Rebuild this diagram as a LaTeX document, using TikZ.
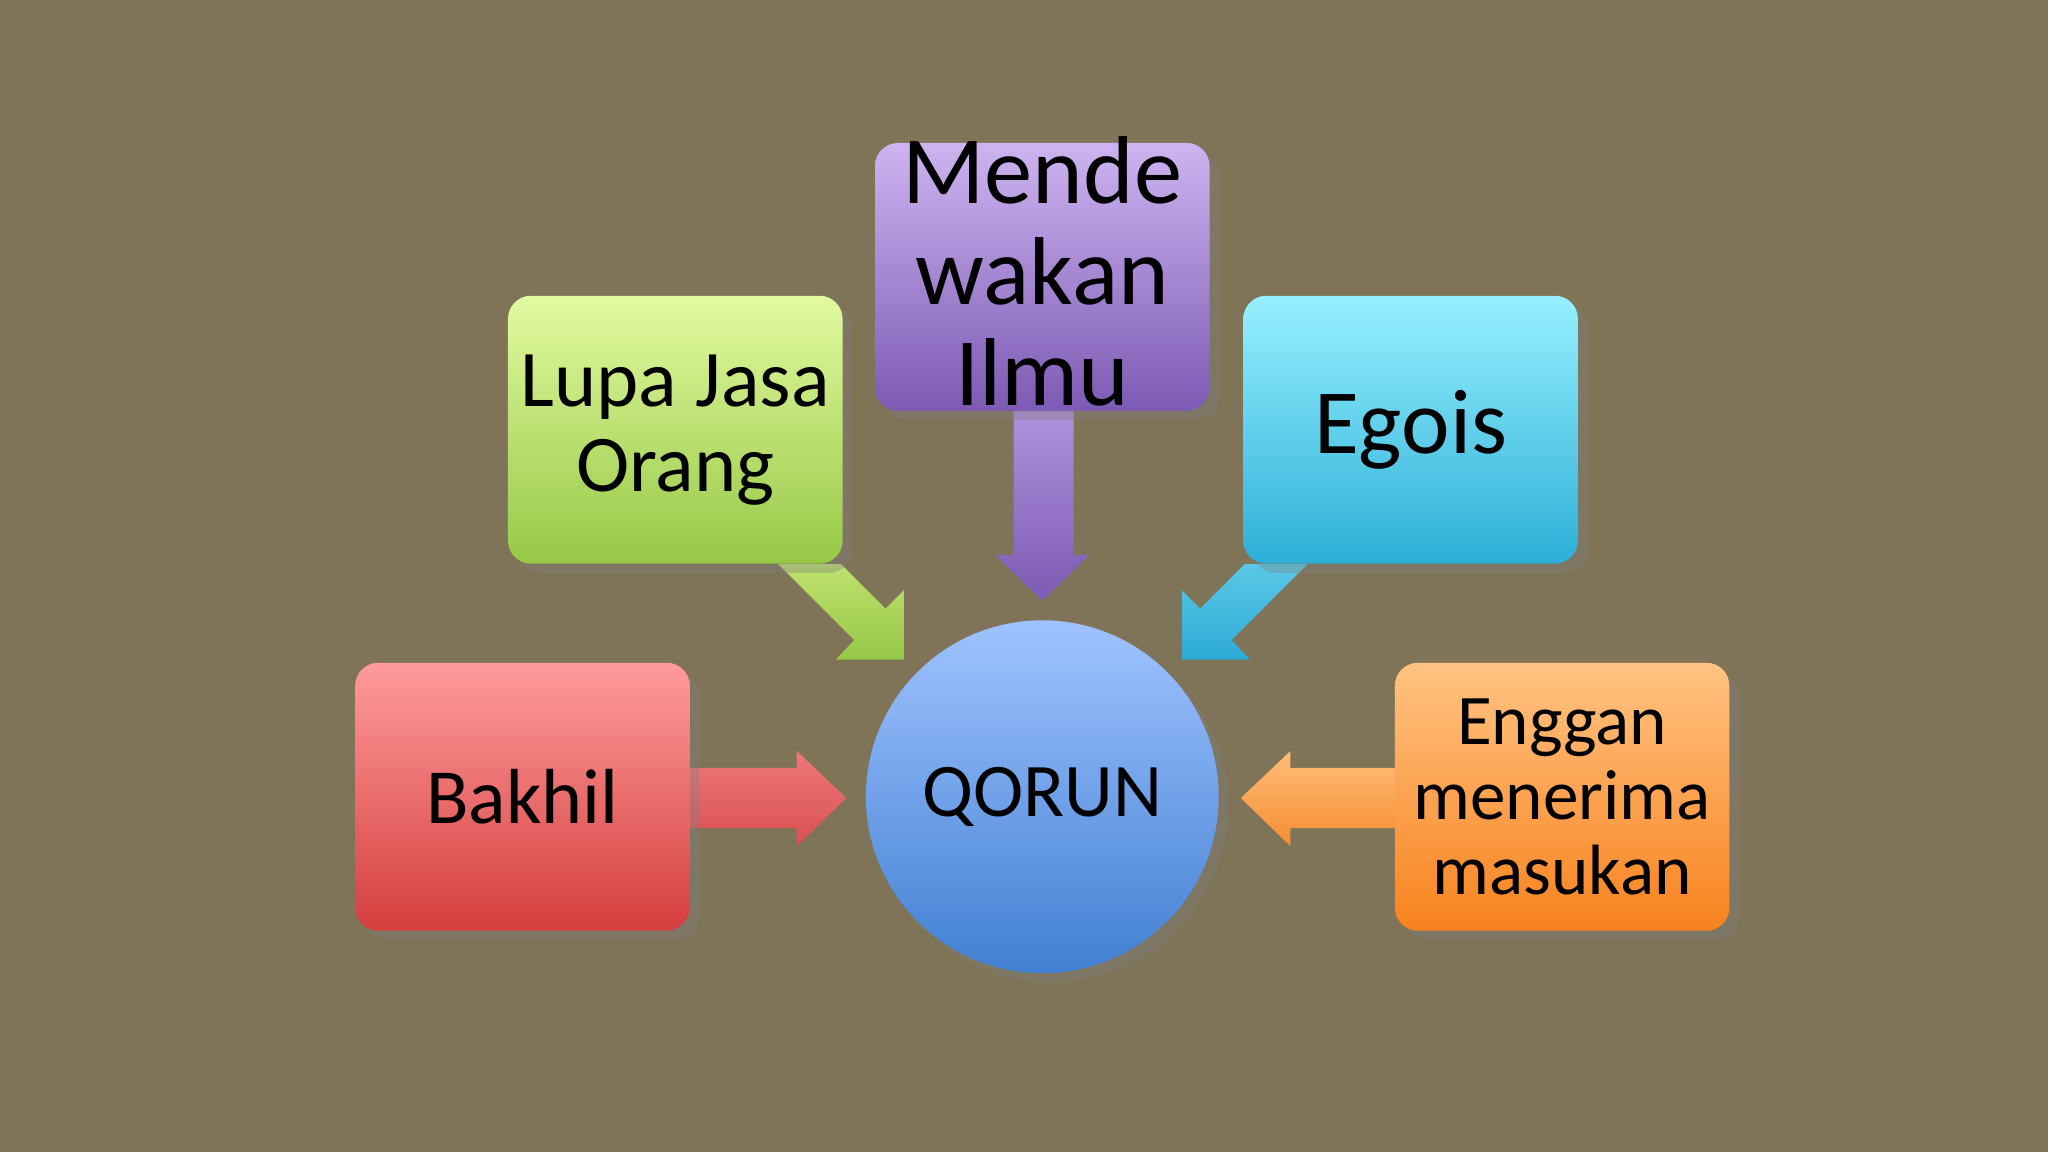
\documentclass[tikz,border=0pt]{standalone}
\usepackage{fontspec}
\setmainfont{Carlito}
\usetikzlibrary{shadows}
\definecolor{bg}{HTML}{7F7358}
\begin{document}
\begin{tikzpicture}[x=0.01cm,y=-0.01cm,
 box/.style={rounded corners=5pt,minimum width=2.56cm,minimum height=2.05cm,inner sep=0pt,
   drop shadow={opacity=0.35,shadow xshift=2pt,shadow yshift=-2pt}},
 lbl/.style={align=center,inner sep=0pt}]
\fill[bg] (0,0) rectangle (1568,882);
\useasboundingbox (0,0) rectangle (1568,882);
% arrows
\shade[top color={rgb,255:red,240;green,120;blue,120},bottom color={rgb,255:red,215;green,80;blue,80}]
 (528,588) -- (610,588) -- (610,575) -- (648,611) -- (610,648) -- (610,634) -- (528,634) -- cycle;
\shade[top color={rgb,255:red,255;green,190;blue,120},bottom color={rgb,255:red,245;green,140;blue,50}]
 (1068,588) -- (988,588) -- (988,575) -- (950,611) -- (988,648) -- (988,634) -- (1068,634) -- cycle;
\shade[top color={rgb,255:red,175;green,145;blue,220},bottom color={rgb,255:red,125;green,90;blue,180}]
 (776,315) -- (822,315) -- (822,425) -- (834,425) -- (798,460) -- (762,425) -- (776,425) -- cycle;
\shade[top color={rgb,255:red,190;green,225;blue,110},bottom color={rgb,255:red,150;green,200;blue,70}]
 (596,432) -- (644,432) -- (678,466) -- (692,452) -- (692,505) -- (640,505) -- (654,490) -- cycle;
\shade[top color={rgb,255:red,90;green,200;blue,230},bottom color={rgb,255:red,45;green,170;blue,215}]
 (1001,432) -- (953,432) -- (919,466) -- (905,452) -- (905,505) -- (957,505) -- (943,490) -- cycle;
% boxes
\node[box,top color={rgb,255:red,255;green,155;blue,155},bottom color={rgb,255:red,212;green,62;blue,62}] (bak) at (400,610) {};
\node[lbl,font=\fontsize{17}{19}\selectfont] (bakt) at (bak.center) {Bakhil};
\node[box,top color={rgb,255:red,226;green,250;blue,160},bottom color={rgb,255:red,150;green,200;blue,70}] (lupa) at (517,329) {};
\node[lbl,font=\fontsize{17.5}{18.5}\selectfont] (lupat) at (lupa.center) {Lupa Jasa\\Orang};
\node[box,top color={rgb,255:red,205;green,180;blue,240},bottom color={rgb,255:red,125;green,90;blue,180}] (men) at (798,212) {};
\node[lbl,font=\fontsize{21}{22}\selectfont] (ment) at (798,208) {Mende\\wakan\\Ilmu};
\node[box,top color={rgb,255:red,150;green,240;blue,255},bottom color={rgb,255:red,45;green,175;blue,215}] (ego) at (1080,329) {};
\node[lbl,font=\fontsize{20}{22}\selectfont] (egot) at (ego.center) {Egois};
\node[box,top color={rgb,255:red,255;green,195;blue,130},bottom color={rgb,255:red,248;green,130;blue,30}] (eng) at (1196,610) {};
\node[lbl,font=\fontsize{15.5}{16.3}\selectfont] (engt) at (eng.center) {Enggan\\menerima\\masukan};
\node[circle,minimum size=2.7cm,top color={rgb,255:red,160;green,195;blue,255},bottom color={rgb,255:red,65;green,128;blue,210},font=\fontsize{16.5}{20}\selectfont,
 drop shadow={opacity=0.35,shadow xshift=2pt,shadow yshift=-2pt}] (q) at (798,610) {QORUN};
\end{tikzpicture}
\end{document}
